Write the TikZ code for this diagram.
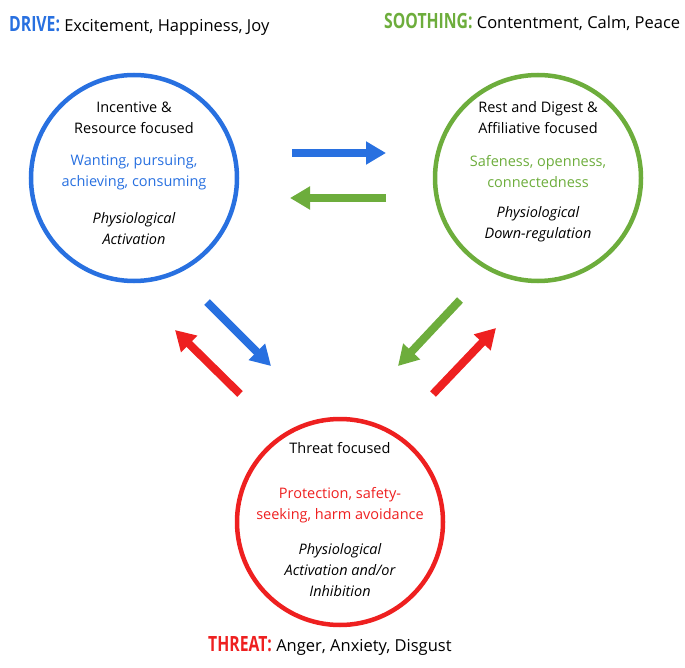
\documentclass[tikz,border=0pt]{standalone}
\usepackage{fontspec}
\setmainfont{Open Sans}
\usetikzlibrary{arrows.meta}
\definecolor{cb}{HTML}{2870E0}
\definecolor{cg}{HTML}{6DAD3C}
\definecolor{cr}{HTML}{EE2020}
\begin{document}
\begin{tikzpicture}[x=1pt,y=-1pt,
  ring/.style={draw,line width=4.5pt,circle,minimum size=206pt,inner sep=0pt},
  txt/.style={align=center,font=\fontsize{14.5}{21}\selectfont},
  itx/.style={align=center,font=\fontsize{14.5}{21}\selectfont\itshape},
  big/.style={line width=8pt,-{Triangle[length=20pt,width=22pt]}},
  ttl/.style={anchor=west,font=\fontsize{16.5}{18}\selectfont,inner sep=0pt}]
\useasboundingbox (0,0) rectangle (685,668);
\node[ring,cb] (d) at (134,178) {};
\node[ring,cg] (s) at (538,178) {};
\node[ring,cr] (t) at (340,522) {};
\node[txt] (d1) at (134,118) {Incentive \&\\Resource focused};
\node[txt,cb] (d2) at (134,172) {Wanting, pursuing,\\achieving, consuming};
\node[itx] (d3) at (134,229) {Physiological\\Activation};
\node[txt] (s1) at (538,118) {Rest and Digest \&\\Affiliative focused};
\node[txt,cg] (s2) at (538,172) {Safeness, openness,\\connectedness};
\node[itx] (s3) at (538,224) {Physiological\\Down-regulation};
\node[txt] (t1) at (340,448) {Threat focused};
\node[txt,cr] (t2) at (340,505) {Protection, safety-\\seeking, harm avoidance};
\node[itx] (t3) at (340,570) {Physiological\\Activation and/or\\Inhibition};
\node[ttl] (hd) at (9,26) {\textcolor{cb}{\fontsize{21}{21}\selectfont\bfseries\scalebox{0.75}[1]{DRIVE:}} Excitement, Happiness, Joy};
\node[ttl] (hs) at (384,22) {\textcolor{cg}{\fontsize{21}{21}\selectfont\bfseries\scalebox{0.75}[1]{SOOTHING:}} Contentment, Calm, Peace};
\node[ttl] (ht) at (208,646) {\textcolor{cr}{\fontsize{21}{21}\selectfont\bfseries\scalebox{0.75}[1]{THREAT:}} Anger, Anxiety, Disgust};
\coordinate (a1) at (292,153); \coordinate (a2) at (386,153);
\coordinate (b1) at (386,198); \coordinate (b2) at (290,198);
\coordinate (c1) at (207,302); \coordinate (c2) at (271,366);
\coordinate (e1) at (240,394); \coordinate (e2) at (175,330);
\coordinate (f1) at (460,300); \coordinate (f2) at (398,366);
\coordinate (g1) at (433,394); \coordinate (g2) at (496,328);
\draw[big,cb] (a1) -- (a2);
\draw[big,cg] (b1) -- (b2);
\draw[big,cb] (c1) -- (c2);
\draw[big,cr] (e1) -- (e2);
\draw[big,cg] (f1) -- (f2);
\draw[big,cr] (g1) -- (g2);
\end{tikzpicture}
\end{document}
